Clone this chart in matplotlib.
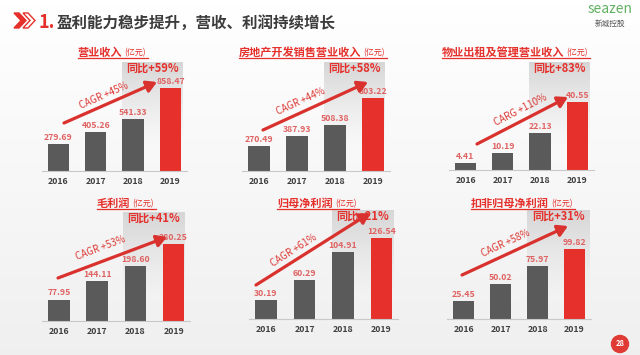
import numpy as np
import matplotlib.pyplot as plt
from matplotlib.patches import Polygon, Circle

plt.rcParams['font.family'] = ['Noto Sans CJK SC', 'DejaVu Sans']

# data
years = ['2016', '2017', '2018', '2019']
revenue = [279.69, 405.26, 541.33, 858.47]
property_sales = [270.49, 387.93, 508.38, 803.22]
rental_mgmt = [4.41, 10.19, 22.13, 40.55]
gross_profit = [77.95, 144.11, 198.60, 280.25]
net_profit = [30.19, 60.29, 104.91, 126.54]
net_profit_adj = [25.45, 50.02, 75.97, 99.82]

series = [revenue, property_sales, rental_mgmt, gross_profit, net_profit, net_profit_adj]
titles = ['营业收入', '房地产开发销售营业收入', '物业出租及管理营业收入',
          '毛利润', '归母净利润', '扣非归母净利润']
unit = '(亿元)'
yoy = ['同比+59%', '同比+58%', '同比+83%', '同比+41%', '同比+21%', '同比+31%']
cagr = ['CAGR +45%', 'CAGR +44%', 'CARG +110%', 'CAGR +53%', 'CAGR +61%', 'CAGR +58%']
main_title = '盈利能力稳步提升，营收、利润持续增长'

# layout in pixels (x of first bar centre, bar spacing, baseline y, px height of max bar)
W, H = 640, 355
panels = [
    dict(c0=58.5, sp=37.3, base=171, pxmax=83, title=(122, 52), box=(122, 183, 62), arrow=((64, 123), (157, 82)), ctext=(104, 96)),
    dict(c0=259, sp=38.0, base=171, pxmax=73, title=(361, 52), box=(324, 385, 62), arrow=((263, 130), (368, 82)), ctext=(301, 101)),
    dict(c0=465.5, sp=37.3, base=170, pxmax=68, title=(564, 52), box=(529, 590, 62), arrow=((477, 144), (568, 97)), ctext=(520, 110)),
    dict(c0=59, sp=38.2, base=321, pxmax=77, title=(130, 203), box=(123, 185, 212), arrow=((58, 278), (167, 237)), ctext=(101, 248)),
    dict(c0=266, sp=38.5, base=319, pxmax=81, title=(333, 203), box=(332, 394, 210), arrow=((256, 285), (370, 213)), ctext=(294, 250)),
    dict(c0=463.5, sp=37.0, base=319, pxmax=70, title=(549, 203), box=(527, 590, 210), arrow=((462, 275), (568, 226)), ctext=(506, 243)),
]

RED = '#e5302b'
LABEL_RED = '#e06363'
GRAY_BAR = '#5a5a5a'

fig = plt.figure(figsize=(6.4, 3.55), dpi=100)
fig.patch.set_facecolor('#f2f2f2')

# background layer
bg = fig.add_axes([0, 0, 1, 1], zorder=0)
grad = np.linspace(1.0, 0.94, 100)
bg_img = np.dstack([grad, grad, grad]).reshape(100, 1, 3)
bg.imshow(bg_img, extent=(0, W, H, 0), aspect='auto', origin='upper')

for p in panels:
    x0, x1, top = p['box']
    n = 120
    a = np.clip(1 - np.linspace(0, 1, n) * 1.3, 0, 1) ** 1.2
    rgba = np.zeros((n, 1, 4))
    rgba[:, 0, :3] = 0.84
    rgba[:, 0, 3] = a
    bg.imshow(rgba, extent=(x0, x1, p['base'], top), aspect='auto', origin='upper')
bg.set_xlim(0, W)
bg.set_ylim(H, 0)
bg.axis('off')

# bar panels
HPX = 100
for vals, p in zip(series, panels):
    left = p['c0'] - 0.44 * p['sp']
    width = 3.88 * p['sp']
    ax = fig.add_axes([left / W, 1 - p['base'] / H, width / W, HPX / H], zorder=1)
    ax.patch.set_alpha(0)
    x = np.arange(len(years))
    colors = [GRAY_BAR] * (len(years) - 1) + [RED]
    ax.bar(x, vals, width=0.57, color=colors)
    ax.set_xlim(-0.44, 3.44)
    ax.set_ylim(0, max(vals) * HPX / p['pxmax'])
    for xi, v in zip(x, vals):
        ax.annotate(f'{v:.2f}', (xi, v), xytext=(0, 1.5), textcoords='offset points',
                    ha='center', va='bottom', fontsize=6.3, fontweight='bold', color=LABEL_RED)
    for s in ['top', 'left', 'right']:
        ax.spines[s].set_visible(False)
    ax.spines['bottom'].set_color('#c8c8c8')
    ax.spines['bottom'].set_linewidth(0.8)
    ax.set_yticks([])
    ax.set_xticks(x)
    ax.set_xticklabels(years, fontsize=6.3, fontweight='bold', color='#404040')
    ax.tick_params(axis='x', length=0, pad=4)

# overlay: titles, arrows, texts
ov = fig.add_axes([0, 0, 1, 1], zorder=3)
ov.patch.set_alpha(0)
ov.set_xlim(0, W)
ov.set_ylim(H, 0)
ov.axis('off')

ov.add_patch(Polygon([(14, 13), (19, 13), (26, 20.5), (19, 28), (14, 28), (21, 20.5)], closed=True, color=RED))
ov.add_patch(Polygon([(23, 13), (28, 13), (35, 20.5), (28, 28), (23, 28), (30, 20.5)], closed=True,
                     facecolor='white', edgecolor=RED, lw=1))
ov.text(38, 23, '1.', color=RED, fontsize=13, fontweight='bold', va='center', ha='left')
ov.text(57, 23, main_title, color='#3c3c3c', fontsize=11.2, fontweight='bold', va='center', ha='left')

ov.text(610, 9, 'seazen', color='#62b062', fontsize=10, ha='center', va='center')
ov.text(610, 24, '新城控股', color='#555555', fontsize=5.5, ha='center', va='center')

fig.canvas.draw()
r = fig.canvas.get_renderer()
inv = ov.transData.inverted()
for t, yy, cg, p in zip(titles, yoy, cagr, panels):
    tx, ty = p['title']
    t1 = ov.text(tx, ty, t, color=RED, fontsize=8, fontweight='bold', ha='right', va='center')
    t2 = ov.text(tx + 2, ty + 0.5, unit, color=RED, fontsize=5.8, ha='left', va='center')
    # underline under title and unit
    b1 = t1.get_window_extent(r)
    b2 = t2.get_window_extent(r)
    xa = inv.transform((b1.x0, b1.y0))[0]
    xb = inv.transform((b2.x1, b2.y0))[0]
    ov.plot([xa, xb + 2], [ty + 6, ty + 6], color=RED, lw=0.9)

    x0, x1, top = p['box']
    ov.text((x0 + x1) / 2, top + 6, yy, color=RED, fontsize=8, fontweight='bold', ha='center', va='center')

    (sx, sy), (ex, ey) = p['arrow']
    ov.annotate('', xy=(ex, ey), xytext=(sx, sy),
                arrowprops=dict(arrowstyle='-|>,head_length=0.6,head_width=0.35', lw=2.3,
                                color='#d9312d', shrinkA=0, shrinkB=0))
    ang = np.degrees(np.arctan2(sy - ey, ex - sx))
    cx, cy = p['ctext']
    ov.text(cx, cy, cg, color='#dc3a35', fontsize=7, rotation=ang, rotation_mode='anchor',
            ha='center', va='center')

ov.add_patch(Circle((620, 344), 8.5, color='#e03a34'))
ov.text(620, 344, '28', color='white', fontsize=5.5, fontweight='bold', ha='center', va='center')

fig.savefig('out.png', dpi=100, facecolor=fig.get_facecolor())
